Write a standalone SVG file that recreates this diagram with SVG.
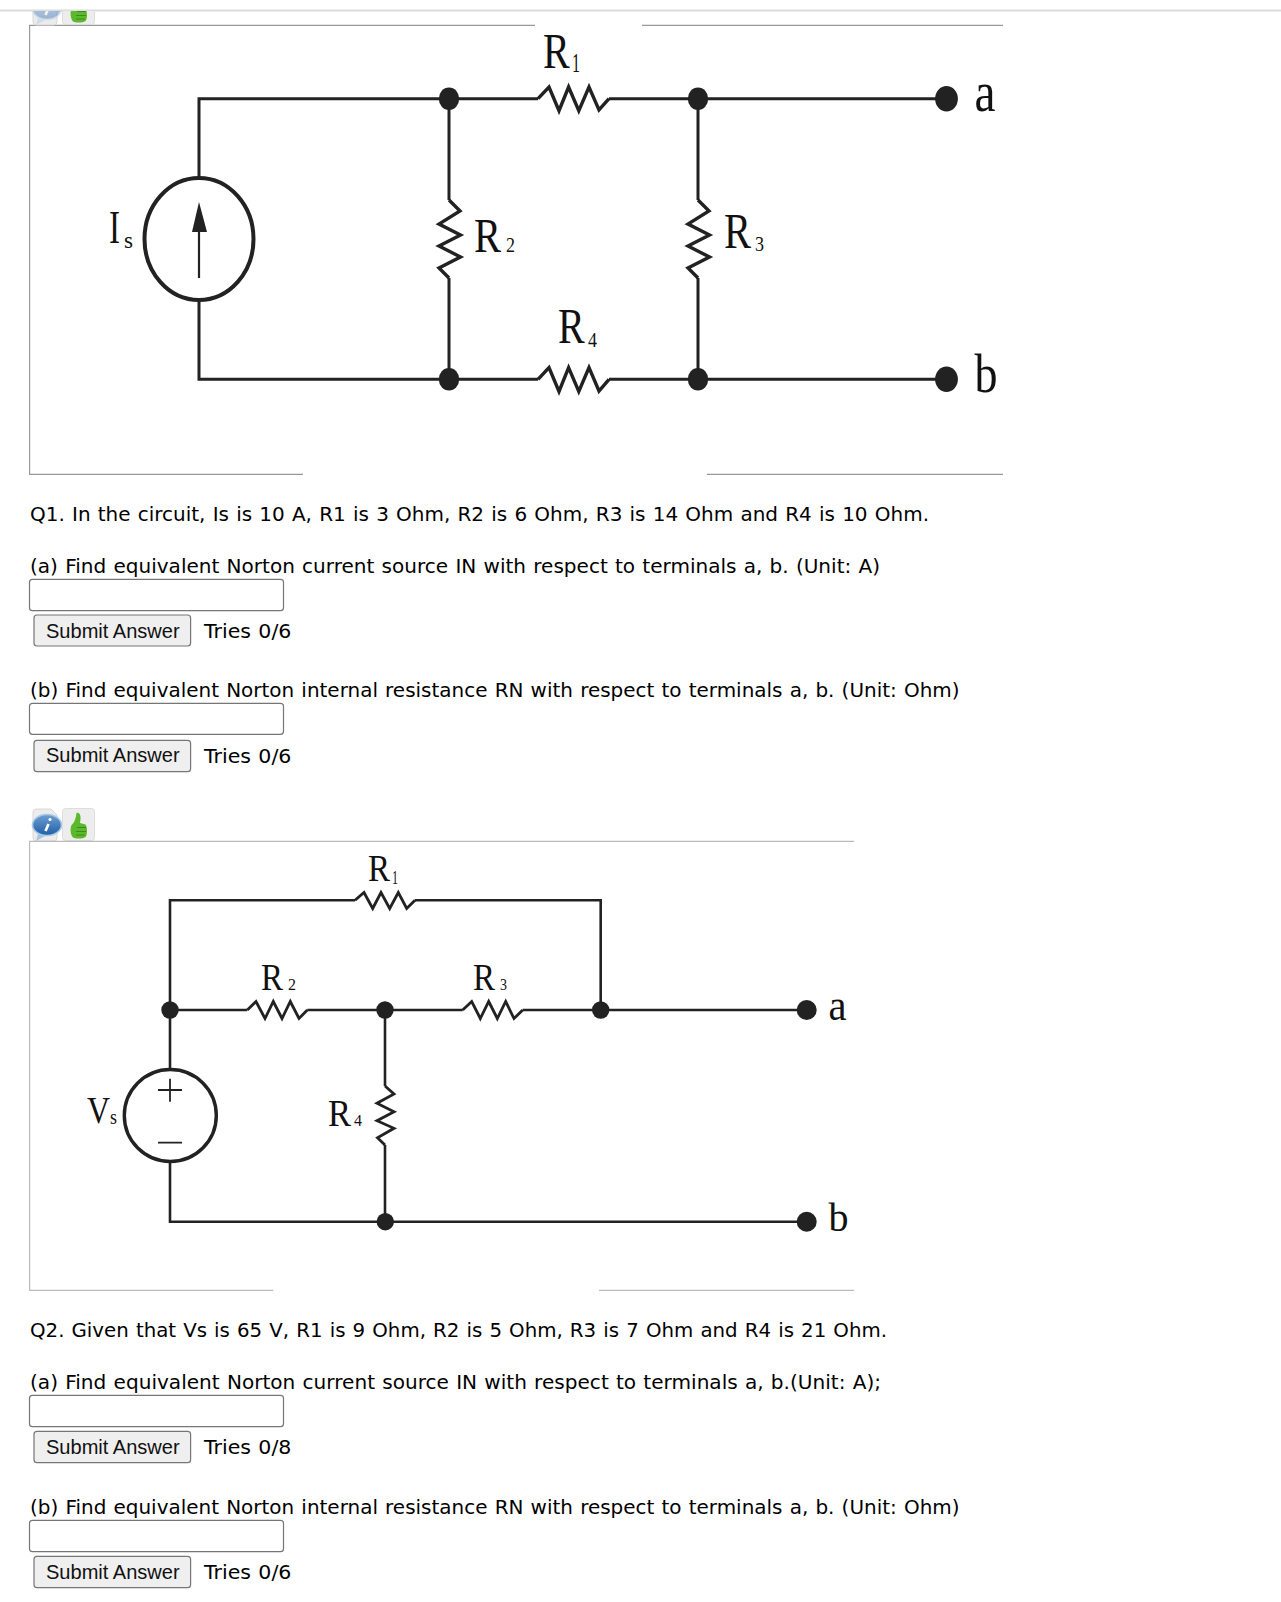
<svg xmlns="http://www.w3.org/2000/svg" width="1281" height="1602" viewBox="0 0 1281 1602">
<style>
.w{fill:none;stroke:#222;stroke-width:3;stroke-linejoin:miter}
.w2{fill:none;stroke:#222;stroke-width:2.6}
.z{fill:none;stroke:#222;stroke-width:3.4}
.y{fill:none;stroke:#222;stroke-width:2.8}
.n{fill:#222}
.fa{fill:none;stroke:#999;stroke-width:1.2}
.fb{fill:none;stroke:#bbb;stroke-width:1.2}
.s{font-family:"Liberation Serif","Times New Roman",serif;fill:#111}
.t{font-family:"DejaVu Sans",Verdana,sans-serif;font-size:19px;fill:#000;word-spacing:0.8px}
.b{font-family:"Liberation Sans",Arial,sans-serif;font-size:20px;fill:#111}
.i{fill:#fff;stroke:#767676;stroke-width:1.2}
.k{fill:#efefef;stroke:#767676;stroke-width:1.2}
</style>
<defs>
<clipPath id="topclip"><rect x="0" y="11" width="200" height="15"/></clipPath>
<linearGradient id="blue" x1="0" y1="0" x2="0" y2="1"><stop offset="0" stop-color="#6f9fd0"/><stop offset="1" stop-color="#1f5ea8"/></linearGradient>
<g id="tile1"><path d="M33 812Q33 809 36 809H51L57 815V838Q57 841 54 841H36Q33 841 33 838Z" fill="#ececec" stroke="#d8d8d8" stroke-width="1"/></g>
<g id="bubble">
<path d="M38 834L36 841L47 835Z" fill="#a8c6e2"/>
<ellipse cx="47" cy="825" rx="14.5" ry="10.5" fill="url(#blue)" stroke="#a9c8e4" stroke-width="1.6"/>
<path d="M45.5 831L48.5 824" stroke="#fff" stroke-width="2.6"/>
<circle cx="50" cy="819.5" r="1.5" fill="#fff"/>
</g>
<g id="thumb">
<rect x="62.5" y="808.5" width="32" height="32" rx="3" fill="#ededed" stroke="#ddd" stroke-width="1"/>
<path d="M76.5 813C79 812 81 815 80.5 819L80 823L85.5 824.5C87.5 827 87.5 835 85.5 837C82 839 75 839 72.5 837C70 833 70 827 72 824.5C75 822 76 817 76.5 813Z" fill="#5cb82c"/>
<path d="M77 827.5H86M76 831.5H86M76 835H85" stroke="#3f8a1c" stroke-width="1" fill="none"/>
</g>
</defs>
<rect width="1281" height="1602" fill="#fff"/>
<rect x="0" y="9.5" width="1281" height="2" fill="#dcdcdc"/>

<g id="frame1">
<path class="fa" d="M535 25.4H29.6V474.4H303M642 25.4H1003M707 474.4H1003"/>
</g>
<g id="icons-top" clip-path="url(#topclip)">
<use href="#tile1" y="-816"/>
<use href="#bubble" y="-816" opacity="0.4"/>
<use href="#thumb" y="-816"/>
</g>

<g id="connectors-1">
<path class="w" d="M538 98.7H199V178M199 300V379.3H538M609 98.7H946M609 379.3H946"/>
<path class="w" d="M449 98.7V200M449 278V379.3M698 98.7V200M698 278V379.3"/>
</g>
<g id="c1-source">
<ellipse cx="199" cy="239" rx="54.5" ry="61" fill="none" stroke="#222" stroke-width="4"/>
<path d="M199 278V230" fill="none" stroke="#222" stroke-width="2.2"/>
<path class="n" d="M199 202L207 232H192Z"/>
<text class="s" x="109" y="243" font-size="47" textLength="11" lengthAdjust="spacingAndGlyphs">I</text>
<text class="s" x="124" y="248" font-size="24" textLength="9" lengthAdjust="spacingAndGlyphs">s</text>
</g>
<g id="c1-r1">
<path class="z" d="M538 98.7L549 87L559 110.7L568.6 87L578.8 110.7L589 87L599 110L609 98.7"/>
<text class="s" transform="translate(543 68) scale(.8 1)" font-size="50">R</text>
<text class="s" x="572" y="72" font-size="27" textLength="8" lengthAdjust="spacingAndGlyphs">1</text>
</g>
<g id="c1-r2">
<path class="z" d="M449 200L460 211L439 224L460.5 235L439 246L460.5 257L439 268L449 278"/>
<text class="s" x="474" y="252" font-size="48" textLength="27" lengthAdjust="spacingAndGlyphs">R</text>
<text class="s" x="506" y="252" font-size="21" textLength="9" lengthAdjust="spacingAndGlyphs">2</text>
</g>
<g id="c1-r3">
<path class="z" d="M698 200L709 211L688 224L709.5 235L688 246L709.5 257L688 268L698 278"/>
<text class="s" x="724" y="248" font-size="50" textLength="27" lengthAdjust="spacingAndGlyphs">R</text>
<text class="s" x="755" y="251" font-size="22" textLength="9" lengthAdjust="spacingAndGlyphs">3</text>
</g>
<g id="c1-r4">
<path class="z" d="M538 379.3L549 367.6L559 391.5L568.6 367.6L578.8 391.5L589 367.6L599 391L609 379.3"/>
<text class="s" transform="translate(558 343) scale(.8 1)" font-size="50">R</text>
<text class="s" x="588" y="347" font-size="21" textLength="9" lengthAdjust="spacingAndGlyphs">4</text>
</g>
<g id="c1-nodes">
<ellipse class="n" cx="449" cy="98.7" rx="10.2" ry="11.3"/>
<ellipse class="n" cx="698" cy="98.7" rx="10.2" ry="11.3"/>
<ellipse class="n" cx="449" cy="379.3" rx="10.2" ry="11.3"/>
<ellipse class="n" cx="698" cy="379.3" rx="10.2" ry="11.3"/>
</g>
<g id="c1-a">
<ellipse class="n" cx="946.5" cy="98.7" rx="11.4" ry="12.7"/>
<text class="s" x="974.5" y="111" font-size="56" textLength="21" lengthAdjust="spacingAndGlyphs">a</text>
</g>
<g id="c1-b">
<ellipse class="n" cx="946.5" cy="379.3" rx="11.4" ry="12.7"/>
<text class="s" x="974.5" y="392" font-size="54" textLength="23" lengthAdjust="spacingAndGlyphs">b</text>
</g>

<g id="q1">
<text class="t" x="30" y="520.5" textLength="899" lengthAdjust="spacingAndGlyphs">Q1. In the circuit, Is is 10 A, R1 is 3 Ohm, R2 is 6 Ohm, R3 is 14 Ohm and R4 is 10 Ohm.</text>
<text class="t" x="30" y="573" textLength="850" lengthAdjust="spacingAndGlyphs">(a) Find equivalent Norton current source IN with respect to terminals a, b. (Unit: A)</text>
<rect class="i" x="29.5" y="579.3" width="254" height="31.4" rx="3"/>
<rect class="k" x="34" y="615" width="156.6" height="31" rx="3"/>
<text class="b" x="46" y="637.7" textLength="133.6" lengthAdjust="spacingAndGlyphs">Submit Answer</text>
<text class="t" x="204" y="637.7" textLength="87.4" lengthAdjust="spacingAndGlyphs">Tries 0/6</text>
<text class="t" x="30" y="696.7" textLength="929.5" lengthAdjust="spacingAndGlyphs">(b) Find equivalent Norton internal resistance RN with respect to terminals a, b. (Unit: Ohm)</text>
<rect class="i" x="29.5" y="703.3" width="254" height="31" rx="3"/>
<rect class="k" x="34" y="740.3" width="156.6" height="31.4" rx="3"/>
<text class="b" x="46" y="761.7" textLength="133.6" lengthAdjust="spacingAndGlyphs">Submit Answer</text>
<text class="t" x="204" y="762.5" textLength="87.4" lengthAdjust="spacingAndGlyphs">Tries 0/6</text>
</g>

<g id="icons-2">
<use href="#tile1"/>
<use href="#bubble"/>
<use href="#thumb"/>
</g>
<g id="frame2">
<path class="fb" d="M854 841.4H29.6V1290.4H273.3M599 1290.4H854"/>
</g>
<g id="connectors-2">
<path class="w2" d="M355 900.3H170V1069M170 1161.5V1221.7H806M415 900.3H600.7V1010M170 1010H247.3M307.3 1010H462.7M522.7 1010H806M385 1010V1086M385 1145V1221.7"/>
</g>
<g id="c2-source">
<circle cx="170.3" cy="1115.5" r="46" fill="none" stroke="#222" stroke-width="3.4"/>
<path d="M158 1090H182M170 1078.7V1101.7M158 1142.7H182" fill="none" stroke="#222" stroke-width="1.8"/>
<text class="s" transform="translate(87 1122.7) scale(.84 1)" font-size="38">V</text>
<text class="s" x="110" y="1124" font-size="21" textLength="7" lengthAdjust="spacingAndGlyphs">s</text>
</g>
<g id="c2-r1">
<path class="y" d="M355 900.3L364 892.5L372.7 908.5L381 892.5L389.7 908.5L398.3 892.5L406.7 908.5L415 900.3"/>
<text class="s" x="368" y="880.7" font-size="38" textLength="22" lengthAdjust="spacingAndGlyphs">R</text>
<text class="s" x="392" y="884" font-size="18" textLength="6" lengthAdjust="spacingAndGlyphs">1</text>
</g>
<g id="c2-r2">
<path class="y" d="M247.3 1010L256 1001.5L265 1018.5L273.3 1001.5L282 1018.5L290.3 1001.5L299 1018.5L307.3 1010"/>
<text class="s" x="261" y="990" font-size="38" textLength="22" lengthAdjust="spacingAndGlyphs">R</text>
<text class="s" x="288" y="990" font-size="16.5" textLength="8" lengthAdjust="spacingAndGlyphs">2</text>
</g>
<g id="c2-r3">
<path class="y" d="M462.7 1010L471.7 1001.5L480.3 1018.5L488.7 1001.5L497.3 1018.5L505.7 1001.5L514 1018.5L522.7 1010"/>
<text class="s" x="473" y="990" font-size="38" textLength="22" lengthAdjust="spacingAndGlyphs">R</text>
<text class="s" x="500" y="990" font-size="16.5" textLength="7" lengthAdjust="spacingAndGlyphs">3</text>
</g>
<g id="c2-r4">
<path class="y" d="M385 1086L394 1094L377 1103.3L394 1111.7L377 1120.7L394 1128.3L377.5 1137.7L385 1145"/>
<text class="s" x="328" y="1126" font-size="38" textLength="23" lengthAdjust="spacingAndGlyphs">R</text>
<text class="s" x="354" y="1126" font-size="17" textLength="8" lengthAdjust="spacingAndGlyphs">4</text>
</g>
<g id="c2-nodes">
<circle class="n" cx="170" cy="1010" r="8.7"/>
<circle class="n" cx="385" cy="1010" r="8.7"/>
<circle class="n" cx="600.7" cy="1010" r="8.7"/>
<circle class="n" cx="385.3" cy="1221.7" r="8.7"/>
</g>
<g id="c2-a">
<circle class="n" cx="806.7" cy="1010" r="10"/>
<text class="s" x="828.5" y="1019.5" font-size="44" textLength="18" lengthAdjust="spacingAndGlyphs">a</text>
</g>
<g id="c2-b">
<circle class="n" cx="806.7" cy="1221.7" r="10"/>
<text class="s" x="828.5" y="1230.5" font-size="40" textLength="20" lengthAdjust="spacingAndGlyphs">b</text>
</g>

<g id="q2">
<text class="t" x="30" y="1336.7" textLength="857" lengthAdjust="spacingAndGlyphs">Q2. Given that Vs is 65 V, R1 is 9 Ohm, R2 is 5 Ohm, R3 is 7 Ohm and R4 is 21 Ohm.</text>
<text class="t" x="30" y="1389" textLength="851" lengthAdjust="spacingAndGlyphs">(a) Find equivalent Norton current source IN with respect to terminals a, b.(Unit: A);</text>
<rect class="i" x="29.5" y="1395.3" width="254" height="31.4" rx="3"/>
<rect class="k" x="34" y="1431.3" width="156.6" height="31.4" rx="3"/>
<text class="b" x="46" y="1453.7" textLength="133.6" lengthAdjust="spacingAndGlyphs">Submit Answer</text>
<text class="t" x="204" y="1453.7" textLength="87.4" lengthAdjust="spacingAndGlyphs">Tries 0/8</text>
<text class="t" x="30" y="1513.7" textLength="929.5" lengthAdjust="spacingAndGlyphs">(b) Find equivalent Norton internal resistance RN with respect to terminals a, b. (Unit: Ohm)</text>
<rect class="i" x="29.5" y="1520.3" width="254" height="31.4" rx="3"/>
<rect class="k" x="34" y="1556.3" width="156.6" height="31.4" rx="3"/>
<text class="b" x="46" y="1578.7" textLength="133.6" lengthAdjust="spacingAndGlyphs">Submit Answer</text>
<text class="t" x="204" y="1578.7" textLength="87.4" lengthAdjust="spacingAndGlyphs">Tries 0/6</text>
</g>
</svg>
